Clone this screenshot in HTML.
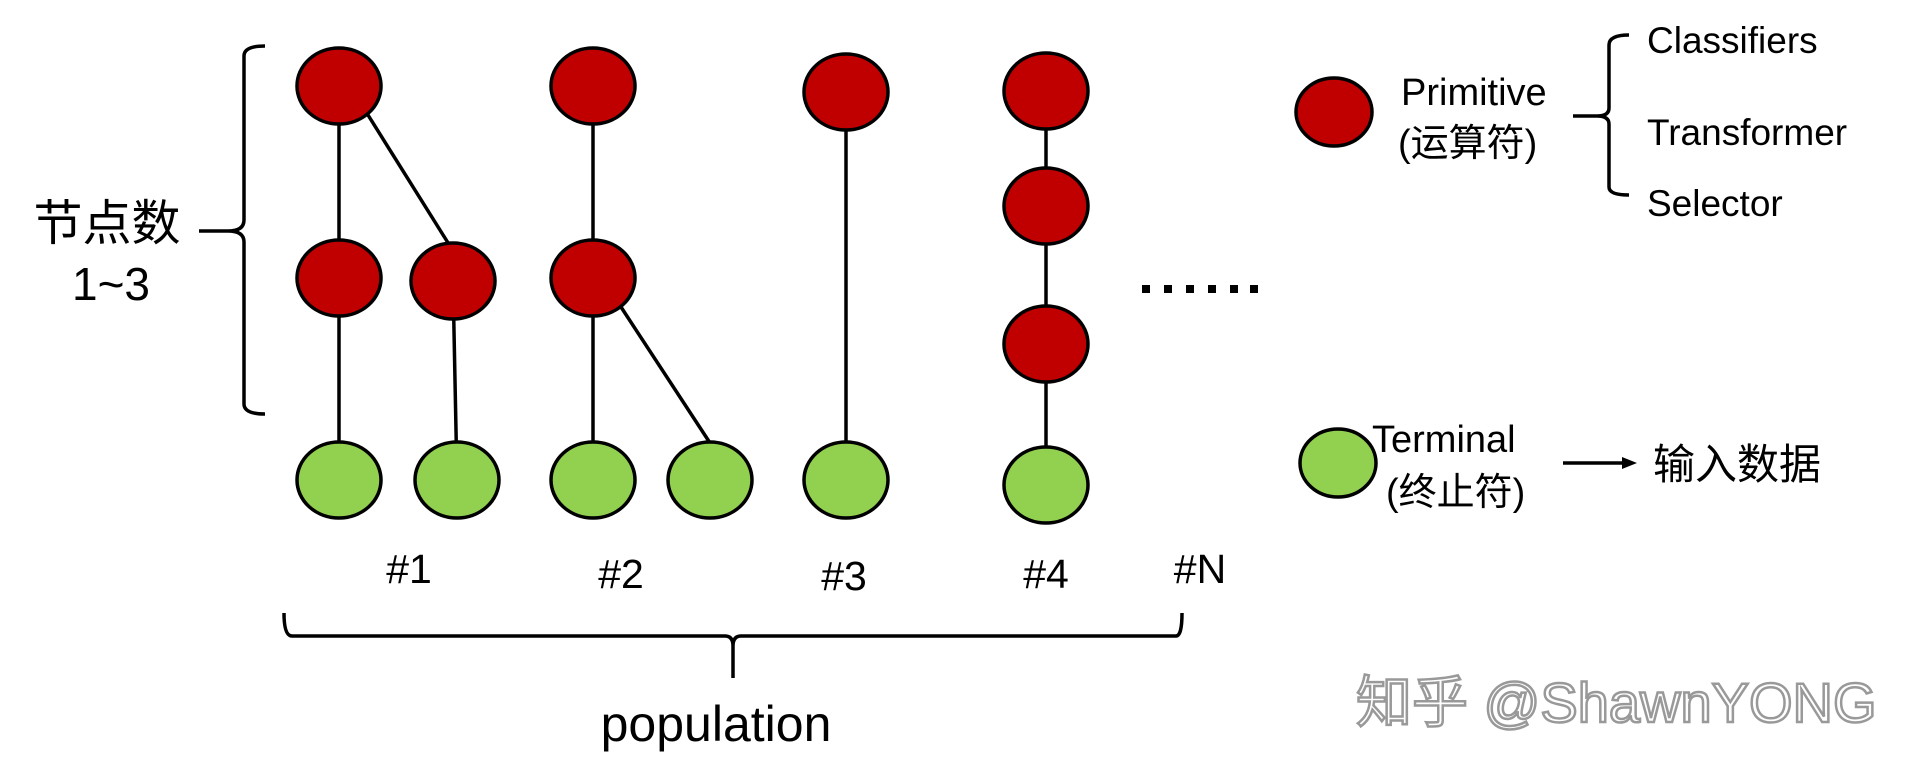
<!DOCTYPE html>
<html><head><meta charset="utf-8"><style>
body{margin:0;background:#fff}
svg{display:block}
text{font-family:"Liberation Sans","Noto Sans CJK SC",sans-serif;fill:#000}
</style></head><body>
<svg width="1929" height="782" viewBox="0 0 1929 782" xmlns="http://www.w3.org/2000/svg">
<g stroke="#000" stroke-width="3.5" fill="none">
<line x1="339" y1="86" x2="339" y2="480"/>
<line x1="368" y1="115" x2="450" y2="246"/>
<line x1="453" y1="281" x2="457" y2="480"/>
<line x1="593" y1="86" x2="593" y2="480"/>
<line x1="621" y1="307" x2="712" y2="446"/>
<line x1="846" y1="92" x2="846" y2="480"/>
<line x1="1046" y1="91" x2="1046" y2="485"/>
<path d="M265 46 Q244 46 244 56 L244 220 Q244 231 228 231 L199 231 M228 231 Q244 231 244 242 L244 404 Q244 414 265 414"/>
<path d="M284 613 Q284 636 292 636 L725 636 Q733 636 733 646 L733 678 M733 646 Q733 636 741 636 L1176 636 Q1182 636 1182 613"/>
<path d="M1629 35 Q1609 35 1609 45 L1609 108 Q1609 116 1597 116 L1573 116 M1597 116 Q1609 116 1609 124 L1609 187 Q1609 195 1629 195"/>
<line x1="1563" y1="463" x2="1625" y2="463"/>
</g>
<polygon points="1637,463 1622,457 1622,469" fill="#000"/>
<g stroke="#000" stroke-width="3.5" fill="#c00000">
<ellipse cx="339" cy="86" rx="42" ry="38"/>
<ellipse cx="339" cy="278" rx="42" ry="38"/>
<ellipse cx="453" cy="281" rx="42" ry="38"/>
<ellipse cx="593" cy="86" rx="42" ry="38"/>
<ellipse cx="593" cy="278" rx="42" ry="38"/>
<ellipse cx="846" cy="92" rx="42" ry="38"/>
<ellipse cx="1046" cy="91" rx="42" ry="38"/>
<ellipse cx="1046" cy="206" rx="42" ry="38"/>
<ellipse cx="1046" cy="344" rx="42" ry="38"/>
<ellipse cx="1334" cy="112" rx="38" ry="34"/>
</g>
<g stroke="#000" stroke-width="3.5" fill="#92d050">
<ellipse cx="339" cy="480" rx="42" ry="38"/>
<ellipse cx="457" cy="480" rx="42" ry="38"/>
<ellipse cx="593" cy="480" rx="42" ry="38"/>
<ellipse cx="710" cy="480" rx="42" ry="38"/>
<ellipse cx="846" cy="480" rx="42" ry="38"/>
<ellipse cx="1046" cy="485" rx="42" ry="38"/>
<ellipse cx="1338" cy="463" rx="38" ry="34"/>
</g>
<g fill="#000">
<rect x="1142" y="285" width="8" height="8"/><rect x="1164" y="285" width="8" height="8"/><rect x="1186" y="285" width="8" height="8"/><rect x="1208" y="285" width="8" height="8"/><rect x="1230" y="285" width="8" height="8"/><rect x="1250" y="285" width="8" height="8"/>
</g>
<text x="107" y="240" font-size="49" text-anchor="middle">节点数</text>
<text x="111" y="300" font-size="46" text-anchor="middle">1~3</text>
<g font-size="41" text-anchor="middle">
<text x="409" y="583">#1</text>
<text x="621" y="588">#2</text>
<text x="844" y="590">#3</text>
<text x="1046" y="588">#4</text>
<text x="1200" y="583">#N</text>
</g>
<text x="716" y="741" font-size="50" text-anchor="middle">population</text>
<g font-size="37">
<text x="1401" y="105" font-size="38">Primitive</text>
<text x="1398" y="156" font-size="38">(运算符)</text>
<text x="1647" y="53">Classifiers</text>
<text x="1647" y="145">Transformer</text>
<text x="1647" y="216">Selector</text>
<text x="1372" y="452" font-size="38">Terminal</text>
<text x="1386" y="505" font-size="38">(终止符)</text>
<text x="1653" y="479" font-size="42">输入数据</text>
</g>
<text x="1356" y="722" font-size="56" fill="#fff" stroke="#999" stroke-width="2.5" style="fill:#fff">知乎 @ShawnYONG</text>
</svg>
</body></html>
